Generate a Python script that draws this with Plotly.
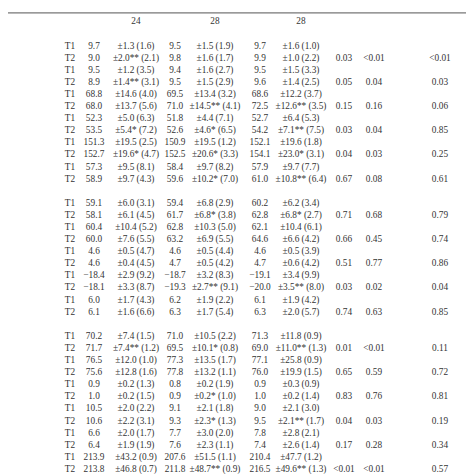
import plotly.graph_objects as go

labels = ["Sample size, n", "LV geometry", "ISWT, mm", "", "PWT, mm", "", "LVMI, g/m²", "", "LVEDD, mm", "",
          "LVEDV, mL", "", "LVESV, mL", "", "Systolic function", "LVEF, %", "", "SVI, mL/m²", "",
          "CO, L·min⁻¹", "", "GLS, %", "", "S’, cm/s", "", "Diastolic function", "E wave, cm/s", "",
          "A wave, cm/s", "", "E/A", "", "Septal e’, cm/s", "", "E/e’", "", "DT, ms", "", "IVRT, ms"]
tp = ["", ""] + ["T1", "T2"] * 6 + [""] + ["T1", "T2"] * 5 + [""] + ["T1", "T2"] * 6 + ["T1"]
m1 = ["", "", "9.7", "9.0", "9.5", "8.9", "68.8", "68.0", "52.3", "53.5", "151.3", "152.7", "57.3", "58.9", "",
      "59.1", "58.1", "60.4", "60.0", "4.6", "4.6", "−18.4", "−18.1", "6.0", "6.1", "",
      "70.2", "71.7", "76.5", "75.6", "0.9", "1.0", "10.5", "10.6", "6.6", "6.4", "213.9", "213.8", "81.1"]
s1 = ["24", "", "±1.3 (1.6)", "±2.0** (2.1)", "±1.2 (3.5)", "±1.4** (3.1)", "±14.6 (4.0)", "±13.7 (5.6)",
      "±5.0 (6.3)", "±5.4* (7.2)", "±19.5 (2.5)", "±19.6* (4.7)", "±9.5 (8.1)", "±9.7 (4.3)", "",
      "±6.0 (3.1)", "±6.1 (4.5)", "±10.4 (5.2)", "±7.6 (5.5)", "±0.5 (4.7)", "±0.4 (4.5)", "±2.9 (9.2)",
      "±3.3 (8.7)", "±1.7 (4.3)", "±1.6 (6.6)", "", "±7.4 (1.5)", "±7.4** (1.2)", "±12.0 (1.0)",
      "±12.8 (1.6)", "±0.2 (1.3)", "±0.2 (1.5)", "±2.0 (2.2)", "±2.2 (3.1)", "±2.0 (1.7)", "±1.9 (1.9)",
      "±43.2 (0.9)", "±46.8 (0.7)", "±15.4 (5.5)"]
m2 = ["", "", "9.5", "9.8", "9.4", "9.5", "69.5", "71.0", "51.8", "52.6", "150.9", "152.5", "58.4", "59.6", "",
      "59.4", "61.7", "62.8", "63.2", "4.6", "4.7", "−18.7", "−19.3", "6.2", "6.3", "",
      "71.0", "69.5", "77.3", "77.8", "0.8", "0.9", "9.1", "9.3", "7.7", "7.6", "207.6", "211.8", "77.1"]
s2 = ["28", "", "±1.5 (1.9)", "±1.6 (1.7)", "±1.6 (2.7)", "±1.5 (2.9)", "±13.4 (3.2)", "±14.5** (4.1)",
      "±4.4 (7.1)", "±4.6* (6.5)", "±19.5 (1.2)", "±20.6* (3.3)", "±9.7 (8.2)", "±10.2* (7.0)", "",
      "±6.8 (2.9)", "±6.8* (3.8)", "±10.3 (5.0)", "±6.9 (5.5)", "±0.5 (4.4)", "±0.5 (4.2)", "±3.2 (8.3)",
      "±2.7** (9.1)", "±1.9 (2.2)", "±1.7 (5.4)", "", "±10.5 (2.2)", "±10.1* (0.8)", "±13.5 (1.7)",
      "±13.2 (1.1)", "±0.2 (1.9)", "±0.2* (1.0)", "±2.1 (1.8)", "±2.3* (1.3)", "±3.0 (2.0)", "±2.3 (1.1)",
      "±51.5 (1.1)", "±48.7** (0.9)", "±15.1 (1.3)"]
m3 = ["", "", "9.7", "9.9", "9.5", "9.6", "68.6", "72.5", "52.7", "54.2", "152.1", "154.1", "57.9", "61.0", "",
      "60.2", "62.8", "62.1", "64.6", "4.6", "4.7", "−19.1", "−20.0", "6.1", "6.3", "",
      "71.3", "69.0", "77.1", "76.0", "0.9", "1.0", "9.0", "9.5", "7.8", "7.4", "210.4", "216.5", "78.4"]
s3 = ["28", "", "±1.6 (1.0)", "±1.0 (2.2)", "±1.5 (3.3)", "±1.4 (2.5)", "±12.2 (3.7)", "±12.6** (3.5)",
      "±6.4 (5.3)", "±7.1** (7.5)", "±19.6 (1.8)", "±23.0* (3.1)", "±9.7 (7.7)", "±10.8** (6.4)", "",
      "±6.2 (3.4)", "±6.8* (2.7)", "±10.4 (6.1)", "±6.6 (4.2)", "±0.5 (3.9)", "±0.6 (4.2)", "±3.4 (9.9)",
      "±3.5** (8.0)", "±1.9 (4.2)", "±2.0 (5.7)", "", "±11.8 (0.9)", "±11.0** (1.3)", "±25.8 (0.9)",
      "±19.9 (1.5)", "±0.3 (0.9)", "±0.2 (1.4)", "±2.1 (3.0)", "±2.1** (1.7)", "±2.8 (2.1)", "±2.6 (1.4)",
      "±47.7 (1.2)", "±49.6** (1.3)", "±14.1 (1.1)"]
p_time = ["", "", "", "0.03", "", "0.05", "", "0.15", "", "0.03", "", "0.04", "", "0.67", "",
          "", "0.71", "", "0.66", "", "0.51", "", "0.03", "", "0.74", "",
          "", "0.01", "", "0.65", "", "0.83", "", "0.04", "", "0.17", "", "<0.01", ""]
p_group = ["", "", "", "<0.01", "", "0.04", "", "0.16", "", "0.04", "", "0.03", "", "0.08", "",
           "", "0.68", "", "0.45", "", "0.77", "", "0.02", "", "0.63", "",
           "", "<0.01", "", "0.59", "", "0.76", "", "0.03", "", "0.28", "", "<0.01", ""]
p_inter = ["", "", "", "<0.01", "", "0.03", "", "0.06", "", "0.85", "", "0.25", "", "0.61", "",
           "", "0.79", "", "0.74", "", "0.86", "", "0.04", "", "0.85", "",
           "", "0.11", "", "0.72", "", "0.81", "", "0.19", "", "0.34", "", "0.57", ""]
header = ["Low Vitamin", "High Vitamin", "Time", "Group", "Interaction Group"]

rows = list(range(len(labels)))
font = dict(family="Liberation Serif", size=9.3, color="#333")
fig = go.Figure()

def col(x, texts, pos="middle center"):
    xs, ys, ts = [], [], []
    for r, t in zip(rows, texts):
        if t:
            xs.append(x); ys.append(r); ts.append(t)
    fig.add_trace(go.Scatter(x=xs, y=ys, text=ts, mode="text", textposition=pos,
                             textfont=font, hoverinfo="skip", showlegend=False, cliponaxis=False))

col(-1, labels, "middle right")
col(62, tp)
col(86, m1)
col(128, s1)
col(167, m2)
col(207, s2)
col(252, m3)
col(293, s3)
col(336, p_time)
col(366, p_group)
col(432, p_inter)
fig.add_trace(go.Scatter(x=[197, 280, 336, 366, 432], y=[-1.3] * 5, text=header, mode="text",
                         textfont=font, hoverinfo="skip", showlegend=False))

fig.update_layout(width=474, height=474, margin=dict(l=0, r=0, t=0, b=0),
                  paper_bgcolor="white", plot_bgcolor="white",
                  xaxis=dict(range=[0, 474], visible=False, fixedrange=True),
                  yaxis=dict(range=[38.02, -1.157], visible=False, fixedrange=True),
                  shapes=[dict(type="line", xref="paper", yref="y", x0=0, x1=1, y0=-0.75, y1=-0.75,
                               line=dict(color="#555", width=1))])
fig.write_html("out.html")
